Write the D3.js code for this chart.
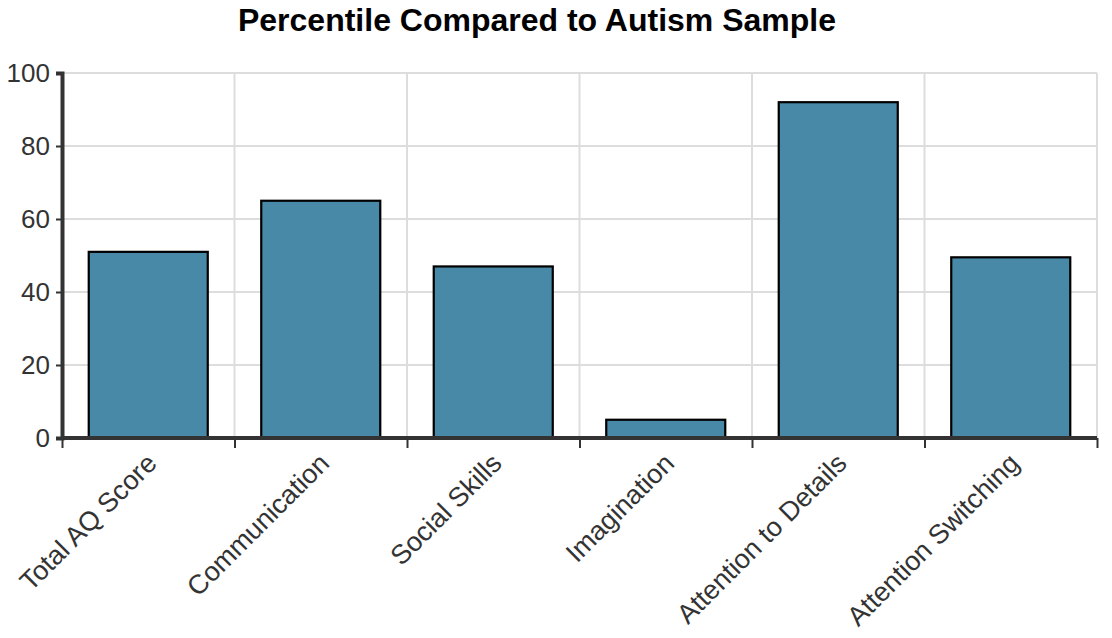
<!DOCTYPE html>
<html>
<head>
<meta charset="utf-8">
<script src="https://cdn.jsdelivr.net/npm/d3@7"></script>
<style>
  body { margin: 0; background: #fff; }
  svg text { font-family: "Liberation Sans", Arial, sans-serif; }
</style>
</head>
<body>
<div id="chart"></div>
<script>
const categories = ['Total AQ Score', 'Communication', 'Social Skills', 'Imagination', 'Attention to Details', 'Attention Switching']
const percentiles = [51, 65, 47, 5, 92, 49.5]
const yTicks = [0, 20, 40, 60, 80, 100]

const width = 1112
const height = 638
const margin = { top: 73, right: 15, bottom: 200, left: 62 }

const svg = d3.select('#chart')
.append('svg')
.attr('width', width)
.attr('height', height)

const x = d3.scaleBand()
.domain(categories)
.range([margin.left, width - margin.right])
.paddingInner(0.31)
.paddingOuter(0.155)

const xEdge = d3.scaleLinear()
.domain([0, categories.length])
.range([margin.left, width - margin.right])

const y = d3.scaleLinear()
.domain([0, 100])
.range([height - margin.bottom, margin.top])

// grid
const grid = svg.append('g').attr('class', 'grid')

grid.selectAll('.hgrid')
.data(yTicks)
.enter()
.append('line')
.attr('x1', margin.left)
.attr('x2', width - margin.right)
.attr('y1', d => y(d))
.attr('y2', d => y(d))
.attr('stroke', '#dddddd')
.attr('stroke-width', 2)

grid.selectAll('.vgrid')
.data(d3.range(1, categories.length + 1))
.enter()
.append('line')
.attr('x1', d => xEdge(d))
.attr('x2', d => xEdge(d))
.attr('y1', margin.top)
.attr('y2', y(0))
.attr('stroke', '#dddddd')
.attr('stroke-width', 2)

// bars
svg.append('g')
.selectAll('rect')
.data(categories)
.enter()
.append('rect')
.attr('x', d => x(d))
.attr('width', x.bandwidth())
.attr('y', (d, i) => y(percentiles[i]))
.attr('height', (d, i) => y(0) - y(percentiles[i]))
.attr('fill', '#4789a7')
.attr('stroke', '#000')
.attr('stroke-width', 2.2)

// y axis
const yAxis = svg.append('g')
.attr('transform', `translate(${margin.left},0)`)
.call(d3.axisLeft(y).tickValues(yTicks).tickSize(6).tickPadding(6))

yAxis.select('.domain').attr('stroke', '#333').attr('stroke-width', 4)
yAxis.selectAll('.tick line').attr('stroke', '#333').attr('stroke-width', 2)
yAxis.selectAll('.tick text').attr('fill', '#333').style('font-size', '26px')

// x axis
const xAxis = svg.append('g')
.attr('transform', `translate(0,${y(0)})`)
.call(d3.axisBottom(xEdge).tickValues(d3.range(0, categories.length + 1)).tickSize(10).tickFormat(''))

xAxis.select('.domain').attr('stroke', '#333').attr('stroke-width', 4).attr('d', `M${margin.left},0H${width - margin.right}`)
xAxis.selectAll('.tick line').attr('stroke', '#333').attr('stroke-width', 2)

svg.append('g')
.selectAll('text')
.data(categories)
.enter()
.append('text')
.attr('transform', d => `translate(${x(d) + x.bandwidth() / 2 + 10},${y(0) + 27}) rotate(-45)`)
.attr('text-anchor', 'end')
.attr('fill', '#333')
.style('font-size', '27px')
.text(d => d)

// title
svg.append('text')
.attr('x', 537)
.attr('y', 31)
.attr('text-anchor', 'middle')
.attr('fill', '#000')
.style('font-size', '32px')
.style('font-weight', 'bold')
.text('Percentile Compared to Autism Sample')
</script>
</body>
</html>
